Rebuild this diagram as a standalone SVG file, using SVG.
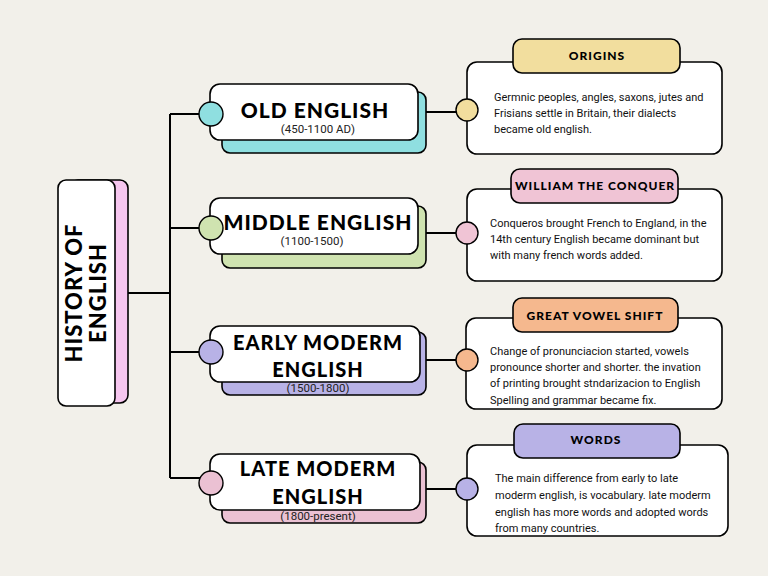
<svg xmlns="http://www.w3.org/2000/svg" width="768" height="576" viewBox="0 0 768 576">
<style>
.w{fill:#fff;stroke:#000;stroke-width:1.6}
.s{stroke:#000;stroke-width:1.6}
.c{stroke:#000;stroke-width:1.4}
.t{font-family:"Lato","Liberation Sans",sans-serif;font-weight:900;fill:#000;text-anchor:middle;letter-spacing:1px}
.d{font-family:"Roboto","Liberation Sans",sans-serif;font-size:11.5px;fill:#222;text-anchor:middle}
.b{font-family:"Roboto","Liberation Sans",sans-serif;font-size:11px;fill:#111}
.k{fill:none;stroke:#000;stroke-width:2}
</style>
<rect width="768" height="576" fill="#f2f0ea"/>
<g id="connectors">
<path class="k" d="M128 293H170M170 114V478M170 114H210M170 228H210M170 352H210M170 478H210M418 112H456M418 233H456M420 360H456M420 489H456"/>
</g>
<g id="root">
<rect x="70" y="180" width="58" height="223" rx="8" fill="#f6c6ef" class="s"/>
<rect x="58" y="180" width="57" height="226" rx="8" class="w"/>
<text class="t" font-size="22" transform="translate(86,293) rotate(-90)"><tspan x="0" y="-4">HISTORY OF</tspan><tspan x="0" y="20">ENGLISH</tspan></text>
</g>
<g id="old">
<rect x="222" y="92" width="204" height="61" rx="8" fill="#8fdfe0" class="s"/>
<rect x="210" y="84" width="208" height="56" rx="10" class="w"/>
<circle cx="211" cy="114" r="12" fill="#8fdfe0" class="c"/>
<text class="t" x="315" y="118" font-size="21">OLD ENGLISH</text>
<text class="d" x="318" y="133">(450-1100 AD)</text>
</g>
<g id="middle">
<rect x="222" y="206" width="204" height="62" rx="8" fill="#cfe3b0" class="s"/>
<rect x="210" y="198" width="208" height="56" rx="10" class="w"/>
<circle cx="211" cy="228" r="12" fill="#cfe3b0" class="c"/>
<text class="t" x="318" y="230" font-size="21">MIDDLE ENGLISH</text>
<text class="d" x="312" y="245">(1100-1500)</text>
</g>
<g id="early">
<rect x="222" y="332" width="204" height="63" rx="8" fill="#b8b2e6" class="s"/>
<rect x="210" y="326" width="210" height="56" rx="10" class="w"/>
<circle cx="211" cy="352" r="12" fill="#b8b2e6" class="c"/>
<text class="t" x="318" y="350" font-size="20">EARLY MODERM</text>
<text class="t" x="318" y="377" font-size="20">ENGLISH</text>
<text class="d" x="318" y="392">(1500-1800)</text>
</g>
<g id="late">
<rect x="222" y="462" width="204" height="61" rx="8" fill="#ebc1d3" class="s"/>
<rect x="210" y="454" width="210" height="56" rx="10" class="w"/>
<circle cx="211" cy="483" r="12" fill="#ebc1d3" class="c"/>
<text class="t" x="318" y="476" font-size="20">LATE MODERM</text>
<text class="t" x="318" y="504" font-size="20">ENGLISH</text>
<text class="d" x="318" y="520">(1800-present)</text>
</g>
<g id="origins">
<rect x="467" y="62" width="255" height="92" rx="10" class="w"/>
<rect x="513" y="39" width="167" height="34" rx="9" fill="#f2de9e" class="s"/>
<text class="t" x="597" y="60" font-size="12">ORIGINS</text>
<circle cx="467" cy="110" r="11" fill="#f2de9e" class="c"/>
<text class="b"><tspan x="494" y="101">Germnic peoples, angles, saxons, jutes and</tspan><tspan x="494" y="117">Frisians settle in Britain, their dialects</tspan><tspan x="494" y="133">became old english.</tspan></text>
</g>
<g id="william">
<rect x="467" y="189" width="255" height="92" rx="10" class="w"/>
<rect x="511" y="169" width="167" height="34" rx="9" fill="#f0c4d5" class="s"/>
<text class="t" x="595" y="190" font-size="12" letter-spacing="0.3">WILLIAM THE CONQUER</text>
<circle cx="467" cy="233" r="11" fill="#f0c4d5" class="c"/>
<text class="b"><tspan x="490" y="227">Conqueros brought French to England, in the</tspan><tspan x="490" y="243">14th century English became dominant but</tspan><tspan x="490" y="259">with many french words added.</tspan></text>
</g>
<g id="vowel">
<rect x="466" y="318" width="256" height="91" rx="10" class="w"/>
<rect x="513" y="298" width="165" height="34" rx="9" fill="#f5b88e" class="s"/>
<text class="t" x="595" y="320" font-size="12">GREAT VOWEL SHIFT</text>
<circle cx="467" cy="360" r="11" fill="#f5b88e" class="c"/>
<text class="b"><tspan x="490" y="355">Change of pronunciacion started, vowels</tspan><tspan x="490" y="371">pronounce shorter and shorter. the invation</tspan><tspan x="490" y="387">of printing brought stndarizacion to English</tspan><tspan x="490" y="404">Spelling and grammar became fix.</tspan></text>
</g>
<g id="words">
<rect x="467" y="445" width="261" height="91" rx="10" class="w"/>
<rect x="514" y="424" width="166" height="34" rx="9" fill="#b8b2e6" class="s"/>
<text class="t" x="596" y="444" font-size="12">WORDS</text>
<circle cx="467" cy="489" r="11" fill="#b8b2e6" class="c"/>
<text class="b"><tspan x="495" y="482">The main difference from early to late</tspan><tspan x="495" y="499">moderm english, is vocabulary. late moderm</tspan><tspan x="495" y="516">english has more words and adopted words</tspan><tspan x="495" y="532">from many countries.</tspan></text>
</g>
</svg>
